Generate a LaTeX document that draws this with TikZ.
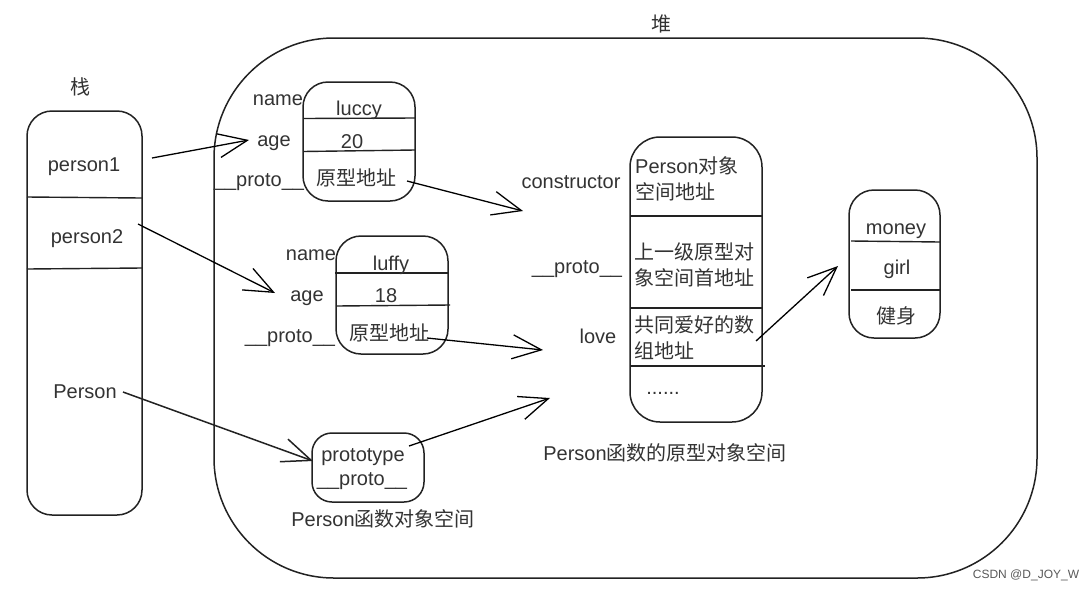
\documentclass[tikz,border=0pt]{standalone}
\usepackage{fontspec}
\setmainfont{Liberation Sans}
\newfontfamily\cjk{Noto Sans CJK SC}
\usetikzlibrary{arrows.meta}
\definecolor{ink}{HTML}{222222}
\definecolor{txt}{HTML}{333333}
\tikzset{
  box/.style={draw=ink,line width=1.5pt,rounded corners=#1,inner sep=0pt,fill=none},
  sep/.style={draw=ink,line width=1.4pt},
  lab/.style={text=txt,font=\fontsize{20}{26}\selectfont,inner sep=0pt},
  arr/.style={draw=black,line width=1.3pt,-{Straight Barb[length=29pt,width=24pt]}},
  arrg/.style={arr,draw=ink,line width=1.5pt}
}
\begin{document}
\begin{tikzpicture}[x=1pt,y=-1pt]
\useasboundingbox (0,0) rectangle (1092,590);
\fill[white] (0,0) rectangle (1092,590);
% containers
\node[box=25pt,minimum width=115pt,minimum height=404pt] (stack) at (84.5,313) {};
\node[box=120pt,minimum width=823pt,minimum height=540pt] (heap) at (625.5,308) {};
\node[box=25pt,minimum width=112pt,minimum height=119pt] (luccybox) at (359,141.5) {};
\node[box=25pt,minimum width=112pt,minimum height=118pt] (luffybox) at (392,295) {};
\node[box=20pt,minimum width=112pt,minimum height=69pt] (protobox) at (368,467.5) {};
\node[box=30pt,minimum width=132pt,minimum height=285pt] (mainbox) at (696,279.5) {};
\node[box=25pt,minimum width=91pt,minimum height=148pt] (hobbybox) at (894.5,264) {};
% dividers
\draw[sep] (27,197) -- (142,198);
\draw[sep] (27,269) -- (142,268);
\draw[sep] (303,118.5) -- (415,118);
\draw[sep] (303,151.5) -- (415,150);
\draw[sep] (335,273) -- (448,273);
\draw[sep] (336,306) -- (450,305);
\draw[sep] (630,216) -- (762,216);
\draw[sep] (630,308) -- (762,308);
\draw[sep] (630,366) -- (765,366);
\draw[sep] (851,241) -- (940,242);
\draw[sep] (851,290) -- (940,290);
% labels
\node[lab] (tzhan) at (80,87) {{\cjk 栈}};
\node[lab] (tdui) at (661,24) {{\cjk 堆}};
\node[lab] (p1) at (84,167) {person1};
\node[lab] (p2) at (87,239) {person2};
\node[lab] (pf) at (85,392) {Person};
\node[lab] (n1) at (278,100) {name};
\node[lab] (v1) at (359,110) {luccy};
\node[lab] (a1) at (274,143) {age};
\node[lab] (v2) at (352,142) {20};
\node[lab] (o1) at (259,182) {\_\_proto\_\_};
\node[lab] (d1) at (356,178) {{\cjk 原型地址}};
\node[lab] (n2) at (311,255) {name};
\node[lab] (v3) at (391,265) {luffy};
\node[lab] (a2) at (307,298) {age};
\node[lab] (v4) at (386,296) {18};
\node[lab] (o2) at (290,338) {\_\_proto\_\_};
\node[lab] (d2) at (389,333) {{\cjk 原型地址}};
\node[lab] (pt) at (363,457) {prototype};
\node[lab] (o3) at (362,481) {\_\_proto\_\_};
\node[lab] (fs) at (383,519) {Person{\cjk 函数对象空间}};
\node[lab] (c1) at (571,182) {constructor};
\node[lab] (o4) at (577,269) {\_\_proto\_\_};
\node[lab] (l1) at (598,336) {love};
\node[lab,anchor=west,align=left] (m1) at (635,179) {Person{\cjk 对象}\\{\cjk 空间地址}};
\node[lab,anchor=west,align=left] (m2) at (634,265) {{\cjk 上一级原型对}\\{\cjk 象空间首地址}};
\node[lab,anchor=west,align=left] (m3) at (634,338) {{\cjk 共同爱好的数}\\{\cjk 组地址}};
\node[lab] (m4) at (663,393) {......};
\node[lab] (ps) at (665,453) {Person{\cjk 函数的原型对象空间}};
\node[lab] (h1) at (896,231) {money};
\node[lab] (h2) at (897,269) {girl};
\node[lab] (h3) at (896,316) {{\cjk 健身}};
\node[text=black!65,font=\fontsize{12}{14}\selectfont,inner sep=0pt] (wm) at (1026,575) {CSDN @D\_JOY\_W};
% connector ends
\coordinate (s1) at (152,158); \coordinate (e1) at (249,140);
\coordinate (s2) at (138,224); \coordinate (e2) at (275,293);
\coordinate (s3) at (407,181); \coordinate (e3) at (523,211);
\coordinate (s4) at (427,338); \coordinate (e4) at (543,350);
\coordinate (s5) at (123,392); \coordinate (e5) at (313,461);
\coordinate (s6) at (409,446); \coordinate (e6) at (550,398);
\coordinate (s7) at (756,341); \coordinate (e7) at (838,266);
% connectors
\draw[arr] (s1) -- (e1);
\draw[arr] (s2) -- (e2);
\draw[arr] (s3) -- (e3);
\draw[arr] (s4) -- (e4);
\draw[arrg] (s5) -- (e5);
\draw[arr] (s6) -- (e6);
\draw[arr] (s7) -- (e7);
\end{tikzpicture}
\end{document}
